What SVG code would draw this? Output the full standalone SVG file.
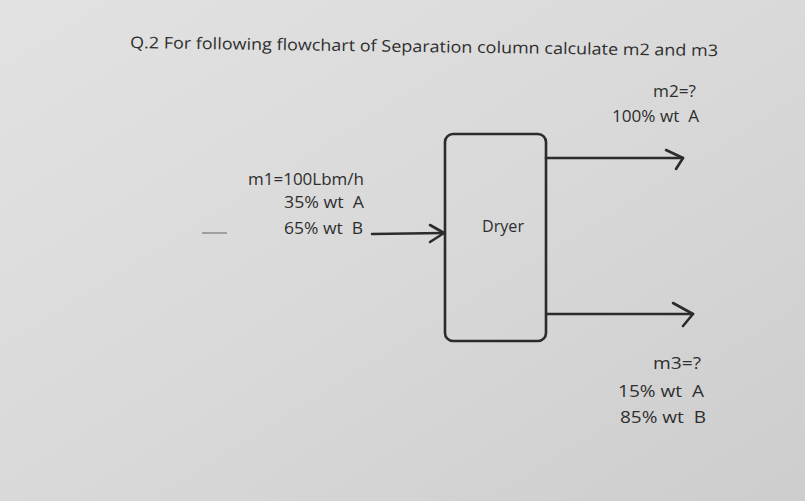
<svg xmlns="http://www.w3.org/2000/svg" width="805" height="501" viewBox="0 0 805 501">
<defs>
<linearGradient id="bg" x1="0" y1="0" x2="1" y2="1">
<stop offset="0" stop-color="#e2e2e2"/>
<stop offset="0.5" stop-color="#d9d9d9"/>
<stop offset="1" stop-color="#cdcdcd"/>
</linearGradient>
<style>
text{font-family:"Open Sans","Liberation Sans",sans-serif;fill:#2e2e2e;font-size:16px;white-space:pre}
.ln{fill:none;stroke:#2b2b2b;stroke-width:2.6;stroke-linecap:round;stroke-linejoin:round}
</style>
</defs>
<rect width="805" height="501" fill="url(#bg)"/>
<text x="130" y="48" font-size="18" textLength="588" lengthAdjust="spacingAndGlyphs" transform="rotate(0.8 130 48)">Q.2 For following flowchart of Separation column calculate m2 and m3</text>
<g id="dryer">
<rect class="ln" x="445" y="134" width="101" height="207" rx="8"/>
<text x="482" y="232" textLength="42" lengthAdjust="spacingAndGlyphs">Dryer</text>
</g>
<g id="feed-label">
<text x="248" y="185" textLength="116" lengthAdjust="spacingAndGlyphs">m1=100Lbm/h</text>
<text x="284" y="208" textLength="80" lengthAdjust="spacingAndGlyphs" xml:space="preserve">35% wt  A</text>
<text x="284" y="234" textLength="79" lengthAdjust="spacingAndGlyphs" xml:space="preserve">65% wt  B</text>
</g>
<g id="top-label">
<text x="653" y="97" textLength="43" lengthAdjust="spacingAndGlyphs">m2=?</text>
<text x="612" y="122" textLength="87" lengthAdjust="spacingAndGlyphs" xml:space="preserve">100% wt  A</text>
</g>
<g id="bottom-label">
<text x="653" y="369" textLength="48" lengthAdjust="spacingAndGlyphs">m3=?</text>
<text x="618" y="397" textLength="86" lengthAdjust="spacingAndGlyphs" xml:space="preserve">15% wt  A</text>
<text x="620" y="423" textLength="86" lengthAdjust="spacingAndGlyphs" xml:space="preserve">85% wt  B</text>
</g>
<g id="connectors">
<path class="ln" d="M372 234 L444 233"/>
<path class="ln" d="M430 225 L444 233 L430 242"/>
<path class="ln" d="M546 158 L683 158"/>
<path class="ln" d="M666 150 L683 158 L676 169"/>
<path class="ln" d="M547 314 L693 314"/>
<path class="ln" d="M673 303 L693 314 L683 326"/>
</g>
<path d="M202 233 L227 233" stroke="#777" stroke-width="1.2"/>
</svg>
